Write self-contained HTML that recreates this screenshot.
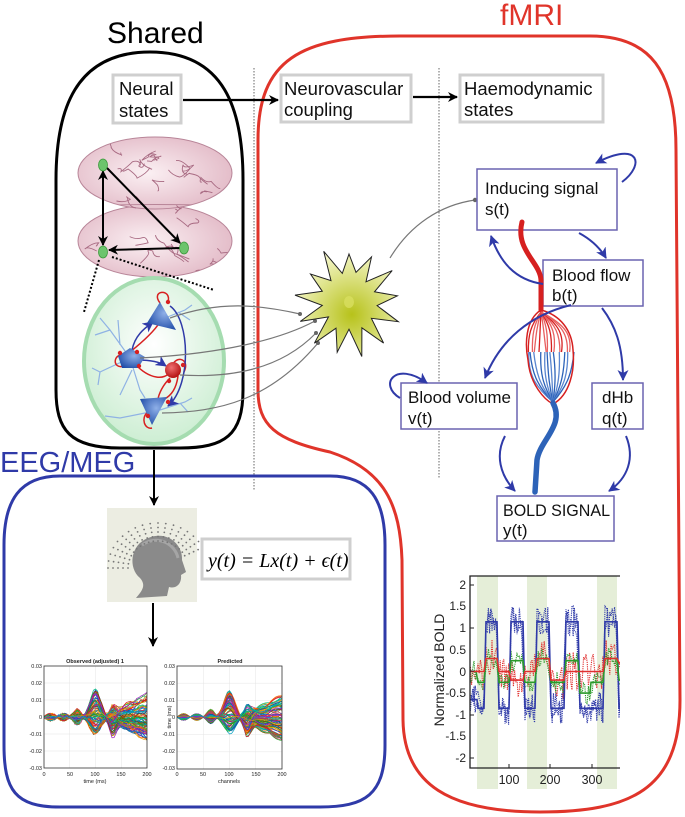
<!DOCTYPE html>
<html><head><meta charset="utf-8">
<style>
html,body{margin:0;padding:0;background:#fff;}
svg{display:block;font-family:"Liberation Sans",sans-serif;}
</style></head>
<body>
<svg id="s" width="685" height="817" viewBox="0 0 685 817" xmlns="http://www.w3.org/2000/svg">
<defs>
<marker id="ak" markerWidth="10" markerHeight="10" refX="9" refY="5" orient="auto" markerUnits="userSpaceOnUse"><path d="M0,0 L10,5 L0,10 L3,5 Z" fill="#000"/></marker>
<marker id="ab" markerWidth="11" markerHeight="11" refX="10" refY="5.5" orient="auto" markerUnits="userSpaceOnUse"><path d="M0,0 L11,5.5 L0,11 L3,5.5 Z" fill="#2f3aa8"/></marker>
<radialGradient id="gStar" cx="0.55" cy="0.6" r="0.6"><stop offset="0" stop-color="#b7c21a"/><stop offset="1" stop-color="#f4f6c8"/></radialGradient>
<radialGradient id="gEll" cx="0.5" cy="0.4" r="0.6"><stop offset="0" stop-color="#ffffff"/><stop offset="1" stop-color="#cdeed3"/></radialGradient>
<radialGradient id="gBrain" cx="0.45" cy="0.5" r="0.6"><stop offset="0" stop-color="#fbf0f3"/><stop offset="1" stop-color="#e2b9c6"/></radialGradient>
<radialGradient id="gTri" cx="0.6" cy="0.4" r="0.7"><stop offset="0" stop-color="#8fb0e8"/><stop offset="1" stop-color="#1c4aa6"/></radialGradient>
<radialGradient id="gRed" cx="0.4" cy="0.35" r="0.7"><stop offset="0" stop-color="#f07070"/><stop offset="1" stop-color="#b00c0c"/></radialGradient>
<clipPath id="cpBrain"><ellipse cx="155" cy="173" rx="77" ry="36"/><ellipse cx="155" cy="241" rx="77" ry="36"/></clipPath>
<clipPath id="cpL"><rect x="44" y="666" width="103" height="102"/></clipPath>
<clipPath id="cpR"><rect x="177" y="666" width="105" height="103"/></clipPath>
<clipPath id="cpB"><rect x="470" y="576" width="150" height="192"/></clipPath>
</defs>

<text x="107" y="43" font-size="30" fill="#000">Shared</text>
<text x="500" y="25" font-size="30" fill="#e0342a">fMRI</text>
<text x="0" y="472" font-size="29" fill="#2f3aa8">EEG/MEG</text>

<line x1="254" y1="68" x2="254" y2="490" stroke="#666" stroke-width="1" stroke-dasharray="1.5,1.5"/>
<line x1="439" y1="68" x2="439" y2="478" stroke="#666" stroke-width="1" stroke-dasharray="1.5,1.5"/>

<path d="M258,390 L258,140 C258,60 300,36 400,36 L590,36 C650,36 676,70 676,150 L680,700 C680,790 630,812 540,812 C450,812 404,785 403,720 L402,560 C400,505 385,470 330,452 C275,440 258,425 258,390 Z" fill="none" stroke="#e0342a" stroke-width="3"/>

<path d="M60,476 L330,476 C370,476 385,500 385,545 L385,745 C385,795 365,807 320,807 L60,807 C15,807 4,790 4,745 L4,545 C4,500 20,476 60,476 Z" fill="none" stroke="#2f3aa8" stroke-width="3"/>

<path d="M150,52 C225,52 243,110 243,180 L243,390 C243,435 225,448 180,448 L120,448 C70,448 56,430 56,390 L56,180 C56,110 75,52 150,52 Z" fill="none" stroke="#000" stroke-width="3"/>

<g fill="#fff" stroke="#cfcfcf" stroke-width="3">
<rect x="113" y="75" width="68" height="48"/>
<rect x="281" y="75" width="130" height="47"/>
<rect x="460" y="75" width="143" height="47"/>
</g>
<g font-size="18.5" fill="#111">
<text x="119" y="95">Neural</text><text x="119" y="117">states</text>
<text x="284" y="95">Neurovascular</text><text x="284" y="116">coupling</text>
<text x="464" y="95">Haemodynamic</text><text x="464" y="116">states</text>
</g>
<line x1="183" y1="100" x2="278" y2="100" stroke="#000" stroke-width="2.2" marker-end="url(#ak)"/>
<line x1="413" y1="97" x2="457" y2="97" stroke="#000" stroke-width="2.2" marker-end="url(#ak)"/>

<g>
<ellipse cx="155" cy="241" rx="77" ry="36" fill="url(#gBrain)" stroke="#b88598" stroke-width="1"/>
<ellipse cx="155" cy="173" rx="77" ry="36" fill="url(#gBrain)" stroke="#b88598" stroke-width="1"/>
<g id="sulci" clip-path="url(#cpBrain)" fill="none" stroke="#a86a82" stroke-width="0.9"></g>
</g>
<g stroke="#000" stroke-width="2" fill="none">
<line x1="103" y1="180" x2="103" y2="245" marker-end="url(#ak)"/>
<line x1="103" y1="200" x2="103" y2="171" marker-end="url(#ak)"/>
<line x1="107" y1="168" x2="180" y2="243" marker-end="url(#ak)"/>
<line x1="181" y1="248" x2="109" y2="250" marker-end="url(#ak)"/>
</g>
<g fill="#6cc46c" stroke="#3c9a3c" stroke-width="0.8">
<ellipse cx="103" cy="165" rx="4.5" ry="6"/><ellipse cx="103" cy="252" rx="4.5" ry="6"/><ellipse cx="184" cy="248" rx="4.5" ry="6"/>
</g>
<line x1="99" y1="260" x2="84" y2="312" stroke="#000" stroke-width="2" stroke-dasharray="2,2"/>
<line x1="112" y1="257" x2="214" y2="290" stroke="#000" stroke-width="2" stroke-dasharray="2,2"/>

<ellipse cx="154" cy="361" rx="70" ry="83" fill="url(#gEll)" stroke="#a5dcb0" stroke-width="4"/>
<g stroke="#8fb2e4" stroke-width="1.2" fill="none">
<path d="M130,358 L110,330 L100,318 M110,330 L95,335 M120,345 L118,320 M130,358 L100,372 L92,368 M100,372 L98,385 M130,358 L140,390 L145,398 M132,370 L120,395 M160,320 L185,310 L192,305 M178,312 L190,320 M150,412 L120,418 L105,416 M160,410 L185,402 L192,398 M180,403 L188,412"/>
</g>
<g fill="none" stroke="#d82020" stroke-width="1.5">
<path d="M160,303 C150,290 172,288 168,302"/><path d="M130,352 C145,340 155,330 160,322"/><path d="M126,355 C112,352 112,370 124,366"/><path d="M135,364 C150,380 165,380 170,372"/><path d="M173,364 C178,355 190,360 184,372"/><path d="M170,378 C160,388 158,398 158,400"/><path d="M178,376 C176,392 168,398 162,400"/><path d="M148,412 C140,418 145,430 152,428"/>
</g>
<g fill="none" stroke="#2f3aa8" stroke-width="1.5">
<path d="M132,350 C135,335 145,328 153,322" marker-end="url(#ab)"/>
<path d="M138,360 C150,360 160,362 166,366" marker-end="url(#ab)"/>
<path d="M170,306 C190,320 192,385 168,406" marker-end="url(#ab)"/>
</g>
<path d="M160,302 L147,323 L176,330 Z" fill="url(#gTri)"/>
<path d="M130,348 L145,357 L138,368 L122,368 L118,356 Z" fill="url(#gTri)"/>
<path d="M140,399 L167,397 L152,425 Z" fill="url(#gTri)"/>
<circle cx="173" cy="370" r="8" fill="url(#gRed)"/>
<g fill="#d82020"><circle cx="168" cy="302" r="2.2"/><circle cx="120" cy="353" r="2.2"/><circle cx="137" cy="352" r="2.2"/><circle cx="139" cy="366" r="2.2"/><circle cx="183" cy="365" r="2.2"/><circle cx="169" cy="381" r="2.2"/><circle cx="168" cy="402" r="2.2"/><circle cx="148" cy="416" r="2.2"/></g>

<g fill="none" stroke="#777" stroke-width="1.2">
<path d="M170,318 C220,300 260,305 300,314"/>
<path d="M140,358 C200,355 270,345 315,321"/>
<path d="M180,375 C230,378 280,370 316,333"/>
<path d="M162,413 C220,412 270,400 318,343"/>
<path d="M390,258 C410,225 440,205 475,200"/>
</g>
<g fill="#666"><circle cx="300" cy="314" r="2"/><circle cx="315" cy="321" r="2"/><circle cx="316" cy="333" r="2"/><circle cx="318" cy="343" r="2"/><circle cx="475" cy="200" r="2.2"/></g>
<path id="star" d="" fill="url(#gStar)" stroke="#222" stroke-width="1"/>
<ellipse cx="349" cy="302" rx="5" ry="6" fill="#d8df60" opacity="0.8"/>

<g fill="#fff" stroke="#6a63b0" stroke-width="1.5">
<rect x="477" y="169" width="140" height="61"/>
<rect x="543" y="260" width="100" height="46"/>
<rect x="401" y="383" width="116" height="46"/>
<rect x="592" y="383" width="51" height="46"/>
<rect x="497" y="496" width="117" height="45"/>
</g>
<path d="M522,222 C515,250 540,262 541,280 L541,310" fill="none" stroke="#d62020" stroke-width="5" stroke-linecap="round"/>
<g id="vess" fill="none" stroke-width="1.3"></g>
<path d="M553,403 C565,425 540,440 537,460 L535,492" fill="none" stroke="#2d63b8" stroke-width="5.5" stroke-linecap="round"/>
<g font-size="17" fill="#111">
<text x="485" y="194">Inducing signal</text><text x="485" y="215">s(t)</text>
<text x="552" y="281">Blood flow</text><text x="552" y="301">b(t)</text>
<text x="408" y="403">Blood volume</text><text x="408" y="424">v(t)</text>
<text x="602" y="403">dHb</text><text x="602" y="424">q(t)</text>
<text x="503" y="516" textLength="107" lengthAdjust="spacingAndGlyphs">BOLD SIGNAL</text><text x="503" y="536">y(t)</text>
</g>

<g fill="none" stroke="#2f3aa8" stroke-width="2">
<path d="M622,182 C645,165 640,140 596,163" marker-end="url(#ab)"/>
<path d="M543,284 C515,280 500,262 491,236" marker-end="url(#ab)"/>
<path d="M579,233 C592,240 600,248 606,258" marker-end="url(#ab)"/>
<path d="M571,305 C530,315 500,340 485,378" marker-end="url(#ab)"/>
<path d="M602,308 C615,325 623,345 623,380" marker-end="url(#ab)"/>
<path d="M400,398 C378,385 395,360 427,383" marker-end="url(#ab)"/>
<path d="M505,436 C495,455 500,475 515,491" marker-end="url(#ab)"/>
<path d="M626,436 C635,458 628,478 609,491" marker-end="url(#ab)"/>
</g>

<line x1="154" y1="450" x2="154" y2="505" stroke="#000" stroke-width="2" marker-end="url(#ak)"/>
<rect x="107" y="508" width="90" height="94" fill="#ecede2"/>
<g id="head">
<path d="M148,538 C168,530 183,545 182,560 L186,572 L181,575 C182,584 176,589 169,587 L167,596 L136,598 C143,590 146,585 140,578 C128,568 130,545 148,538 Z" fill="#8a8a8a"/>
<path d="M142,545 C158,534 175,544 178,558" fill="none" stroke="#a5a5a5" stroke-width="3"/>
<g id="dots" fill="#777"></g>
</g>
<rect x="202" y="539" width="148" height="40" fill="#fff" stroke="#cfcfcf" stroke-width="3"/>
<text x="208" y="567" font-family="Liberation Serif, serif" font-style="italic" font-size="20" fill="#000">y(t) = Lx(t) + ϵ(t)</text>
<line x1="153" y1="603" x2="153" y2="646" stroke="#000" stroke-width="2" marker-end="url(#ak)"/>

<g font-size="5.5" fill="#222">
<text x="95" y="663" text-anchor="middle" font-weight="bold">Observed (adjusted) 1</text>
<text x="230" y="663" text-anchor="middle" font-weight="bold">Predicted</text>
<g text-anchor="end">
<text x="42" y="668">0.03</text><text x="42" y="685">0.02</text><text x="42" y="702">0.01</text><text x="42" y="719">0</text><text x="42" y="736">-0.01</text><text x="42" y="753">-0.02</text><text x="42" y="770">-0.03</text>
<text x="175" y="668">0.03</text><text x="175" y="685">0.02</text><text x="175" y="702">0.01</text><text x="175" y="719">0</text><text x="175" y="736">-0.01</text><text x="175" y="753">-0.02</text><text x="175" y="770">-0.03</text>
</g>
<g text-anchor="middle">
<text x="44" y="776">0</text><text x="70" y="776">50</text><text x="95" y="776">100</text><text x="121" y="776">150</text><text x="147" y="776">200</text>
<text x="177" y="776">0</text><text x="203" y="776">50</text><text x="229" y="776">100</text><text x="256" y="776">150</text><text x="282" y="776">200</text>
<text x="95" y="783">time (ms)</text><text x="229" y="783">channels</text>
</g>
<text x="0" y="0" transform="translate(171,717) rotate(-90)" text-anchor="middle">time (ms)</text>
</g>
<g id="grids" stroke="#e4e4e4" stroke-width="0.5"></g>
<g id="eegL" clip-path="url(#cpL)" fill="none" stroke-width="0.7"></g>
<g id="eegR" clip-path="url(#cpR)" fill="none" stroke-width="0.7"></g>
<rect x="44" y="666" width="103" height="102" fill="none" stroke="#333" stroke-width="0.8"/>
<rect x="177" y="666" width="105" height="103" fill="none" stroke="#333" stroke-width="0.8"/>

<g fill="#e5eed8">
<rect x="477" y="576" width="21" height="213"/><rect x="527" y="576" width="20" height="213"/><rect x="597" y="576" width="20" height="213"/>
</g>
<g id="bold" clip-path="url(#cpB)" fill="none"></g>
<path d="M620,576 L470,576 L470,768 L620,768" fill="none" stroke="#222" stroke-width="1.3"/>
<g font-size="12" fill="#222" text-anchor="end">
<text x="466" y="589">2</text><text x="466" y="610">1.5</text><text x="466" y="632">1</text><text x="466" y="654">0.5</text><text x="466" y="676">0</text><text x="466" y="697">-0.5</text><text x="466" y="719">-1</text><text x="466" y="740">-1.5</text><text x="466" y="762">-2</text>
</g>
<g font-size="12.5" fill="#222" text-anchor="middle"><text x="509" y="784">100</text><text x="550" y="784">200</text><text x="592" y="784">300</text></g>
<g stroke="#222" stroke-width="1"><line x1="470" y1="585" x2="474" y2="585"/><line x1="470" y1="628" x2="474" y2="628"/><line x1="470" y1="671" x2="474" y2="671"/><line x1="470" y1="715" x2="474" y2="715"/><line x1="470" y1="758" x2="474" y2="758"/><line x1="509" y1="768" x2="509" y2="764"/><line x1="550" y1="768" x2="550" y2="764"/><line x1="592" y1="768" x2="592" y2="764"/></g>
<text x="0" y="0" transform="translate(444,670) rotate(-90)" text-anchor="middle" font-size="14" fill="#222">Normalized BOLD</text>
</svg>
<script>
(function(){
var NS="http://www.w3.org/2000/svg";
function el(p,t,a){var e=document.createElementNS(NS,t);for(var k in a)e.setAttribute(k,a[k]);p.appendChild(e);return e;}
var seed=7;function r(){seed=(seed*16807)%2147483647;return (seed-1)/2147483646;}
var pts=[],n=13,cx=349,cy=302;
for(var i=0;i<n*2;i++){var a=i*Math.PI/n-Math.PI/2;var R=(i%2==0)?(48+r()*10):(26+r()*5);pts.push((cx+R*Math.cos(a)*0.95).toFixed(1)+","+(cy+R*Math.sin(a)).toFixed(1));}
document.getElementById("star").setAttribute("d","M"+pts.join(" L")+" Z");
var s=document.getElementById("sulci");
for(var i=0;i<34;i++){var x=80+r()*150,y=138+r()*138;var d="M"+x.toFixed(1)+","+y.toFixed(1);for(var j=0;j<3;j++){var x2=x+(r()-0.5)*28,y2=y+(r()-0.5)*22;d+=" Q"+((x+x2)/2+(r()-0.5)*10).toFixed(1)+","+((y+y2)/2+(r()-0.5)*10).toFixed(1)+" "+x2.toFixed(1)+","+y2.toFixed(1);x=x2;y=y2;}el(s,"path",{d:d});}
el(s,"path",{d:"M78,206 C120,204 190,204 232,206",stroke:"#b88598"});
var v=document.getElementById("vess");
for(var i=0;i<12;i++){var t=i/11;var xb=528+t*44;var c=(i%3==0)?"#d62020":"#e86060";
el(v,"path",{d:"M541,312 C"+(541+(xb-541)*0.8).toFixed(1)+",325 "+xb.toFixed(1)+",335 "+(xb+(r()-0.5)*6).toFixed(1)+",352",stroke:c});
el(v,"path",{d:"M553,402 C"+(553+(xb-553)*0.8).toFixed(1)+",385 "+xb.toFixed(1)+",372 "+(xb+(r()-0.5)*6).toFixed(1)+",352",stroke:i%2?"#2d63b8":"#5b86cf"});}
el(v,"path",{d:"M541,310 C525,320 525,345 528,360 C530,385 545,400 553,404 C570,395 575,370 573,350 C572,330 560,315 541,310",stroke:"#d62020","stroke-width":"1.5"});
var dd=document.getElementById("dots");
for(var k=0;k<5;k++)for(var i=0;i<18;i++){var a=Math.PI*(1.0+i/17*0.85);var R=30+k*5;el(dd,"circle",{cx:(158+R*Math.cos(a)).toFixed(1),cy:(568+R*Math.sin(a)*0.9).toFixed(1),r:0.9});}
var g=document.getElementById("grids");
[[44,147,666,768],[177,282,666,769]].forEach(function(b){for(var i=1;i<4;i++){var x=b[0]+(b[1]-b[0])*i/4;el(g,"line",{x1:x,x2:x,y1:b[2],y2:b[3]});}for(var i=1;i<6;i++){var y=b[2]+(b[3]-b[2])*i/6;el(g,"line",{x1:b[0],x2:b[1],y1:y,y2:y});}});
function G(t,m,s){return Math.exp(-((t-m)/s)*((t-m)/s));}
var cols=["#1f4fd8","#d62020","#20a020","#e0a000","#a020c0","#00a0c0","#ff6a00","#0060a0","#c03060","#60a030","#804000","#00c080"];
function eeg(id,x0,x1,noise){var p=document.getElementById(id);
for(var i=0;i<90;i++){var A=(r()*2-0.75)*0.013,B=(r()-0.5)*0.006,C=(r()-0.5)*0.028,D=(r()-0.5)*0.004;var d="";
for(var t=0;t<=200;t+=4){var val=A*(G(t,100,13)-0.55*G(t,133,10))+B*G(t,65,9)+C*Math.pow(t/200,3)*(t>130?1:0.3)+D*Math.sin(t/8)+(noise?(r()-0.5)*0.0015:0);
var x=x0+(x1-x0)*t/200,y=717-val*1700;d+=(t?"L":"M")+x.toFixed(1)+","+y.toFixed(1);}
el(p,"path",{d:d,stroke:cols[i%cols.length]});}}
eeg("eegL",44,147,true);eeg("eegR",177,282,false);
var b=document.getElementById("bold");
function Y(v){return 671.5-v*43.25;}
function step(segs,col,w,dash,nz){var d="";segs.forEach(function(s,i){for(var x=s[0];x<=s[1];x+=(nz?1.2:(s[1]-s[0]))){var v=s[2]+(nz?(r()-0.5)*nz:0);d+=(d?"L":"M")+x.toFixed(1)+","+Y(v).toFixed(1);}});
var a={d:d,stroke:col,"stroke-width":w};if(dash)a["stroke-dasharray"]=dash;el(b,"path",a);}
var blue=[[468,477,-0.65],[478,484,-0.85],[486,497,1.15],[499,509,-0.85],[511,523,1.15],[525,535,-0.85],[537,549,1.15],[551,564,-0.85],[566,578,1.15],[580,603,-0.85],[605,617,1.15],[619,622,-0.85]];
var green=[[468,476,0],[478,484,-0.25],[486,497,0.3],[499,509,-0.25],[511,523,0.25],[525,535,-0.25],[537,549,0.3],[551,564,-0.25],[566,578,0.25],[580,590,-0.5],[591,603,-0.25],[605,617,0.3],[619,622,-0.2]];
var red=[[468,476,0],[478,484,0],[486,497,0.3],[499,509,0],[511,523,-0.2],[525,535,0],[537,549,0.3],[551,564,-0.2],[566,578,0],[580,603,0],[605,617,0.3],[619,622,0.2]];
step(blue,"#2f3aa8",1.1,"1.2,1",0.8);step(blue,"#2f3aa8",1.1,"1.2,1",0.7);step(red,"#e03030",1.1,"1.2,1",0.9);step(green,"#2a9a2a",1.1,"1.2,1",0.5);
step(blue,"#2f3aa8",1.6,null,0);step(green,"#2a9a2a",1.6,null,0);step(red,"#e03030",1.6,null,0);
})();
</script>
</body></html>
